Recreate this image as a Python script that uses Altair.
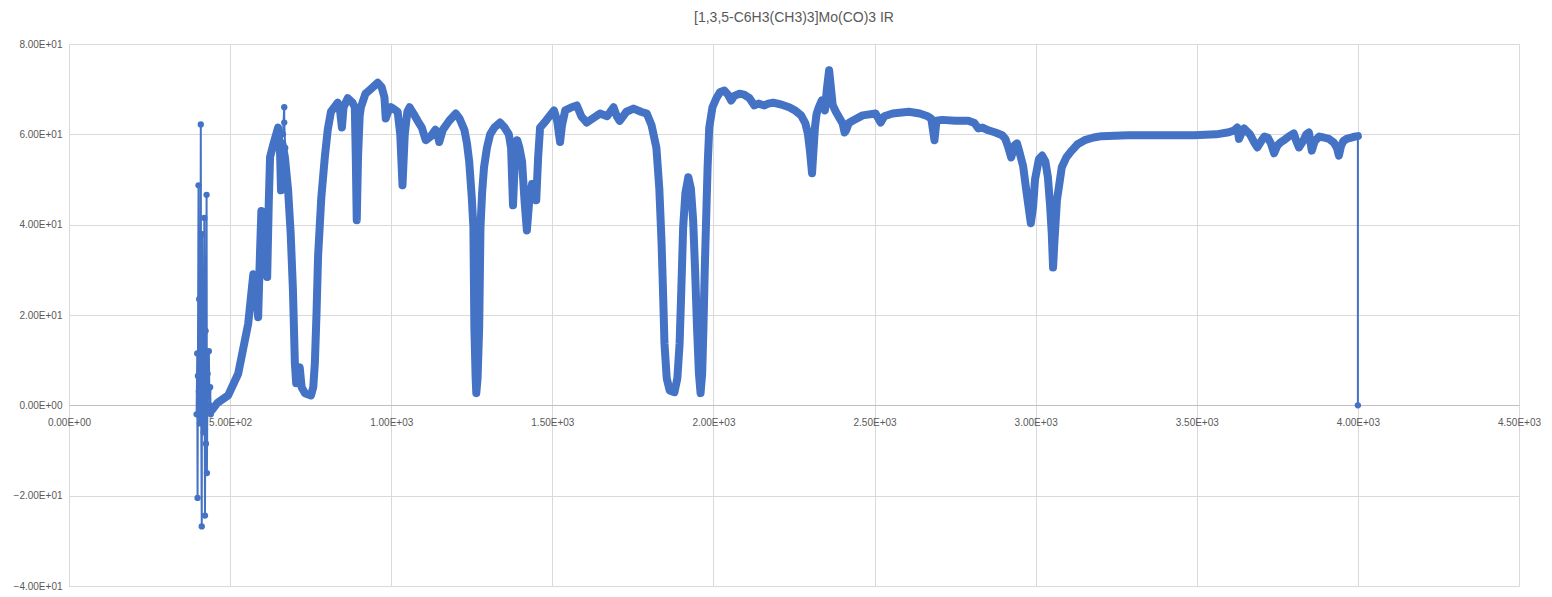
import altair as alt
import pandas as pd

# Main dense spectrum (wavenumber, value)
wn_dense = [443, 460, 494, 525, 556, 572, 580, 587, 592, 597, 605, 610, 615, 620, 624, 635, 649, 655, 658, 662,
            670, 680, 688, 695, 701, 705, 710, 716, 722, 732, 751, 758, 763, 768, 773, 783, 794, 803, 813, 834,
            840, 847, 852, 865, 880, 887, 890, 893, 897, 902, 906, 920, 936, 958, 970, 979, 983, 990, 999, 1010,
            1020, 1028, 1035, 1042, 1050, 1057, 1070, 1082, 1095, 1107, 1122, 1137, 1143, 1149, 1160, 1180, 1200, 1212, 1227, 1235,
            1242, 1250, 1255, 1258, 1262, 1264, 1268, 1273, 1277, 1282, 1288, 1297, 1307, 1320, 1338, 1352, 1365, 1372, 1378, 1384,
            1391, 1398, 1406, 1414, 1421, 1428, 1437, 1444, 1450, 1456, 1462, 1480, 1505, 1515, 1524, 1530, 1540, 1560, 1576, 1590,
            1607, 1625, 1648, 1670, 1690, 1700, 1709, 1730, 1752, 1775, 1793, 1808, 1823, 1832, 1839, 1844, 1848, 1855, 1864, 1879,
            1888, 1895, 1900, 1906, 1913, 1922, 1930, 1937, 1943, 1949, 1955, 1960, 1965, 1969, 1973, 1978, 1982, 1987, 1997, 2009,
            2020, 2034, 2045, 2055, 2065, 2081, 2095, 2112, 2127, 2140, 2158, 2170, 2185, 2210, 2235, 2255, 2272, 2285, 2293, 2300,
            2306, 2310, 2315, 2320, 2327, 2336, 2346, 2352, 2359, 2365, 2370, 2380, 2392, 2401, 2407, 2411, 2420, 2432, 2463, 2503,
            2519, 2530, 2556, 2606, 2640, 2665, 2676, 2686, 2692, 2710, 2751, 2791, 2810, 2822, 2835, 2853, 2875, 2896, 2906, 2915,
            2924, 2935, 2942, 2950, 2961, 2972, 2985, 2992, 2998, 3010, 3020, 3030, 3038, 3045, 3050, 3054, 3058, 3066, 3081, 3096,
            3112, 3130, 3152, 3180, 3205, 3286, 3400, 3492, 3560, 3595, 3615, 3626, 3631, 3640, 3647, 3665, 3680, 3688, 3700, 3710,
            3720, 3730, 3740, 3750, 3760, 3771, 3785, 3801, 3809, 3817, 3830, 3840, 3848, 3857, 3866, 3880, 3894, 3910, 3925, 3935,
            3941, 3948, 3955, 3965, 3985, 4000]
t_dense = [-1.1, 0.5, 2.2, 7, 18, 29, 26, 19.5, 32, 43, 38, 35, 28.4, 45, 55, 58, 61.5, 56, 47.6, 58,
           55, 47.6, 38, 25.5, 9.3, 4.9, 7, 8.4, 4, 2.7, 2.2, 4, 9.3, 20, 33, 46, 55, 61, 65, 67,
           66, 61.5, 66, 68, 67, 66, 55, 41, 55, 64, 66, 69, 70, 71.4, 70.5, 68.2, 63.5, 65, 66, 65.5,
           65, 60, 48.7, 60, 65, 66, 64.5, 63, 61.5, 58.7, 59.5, 61, 60.5, 58.3, 61, 63, 64.6, 63.5, 61, 58,
           54, 46, 39.5, 17.3, 6, 2.7, 6, 17.3, 39.4, 47, 52.7, 57, 60, 61.5, 62.6, 61.5, 60, 57, 44.3, 55,
           58.7, 57, 54, 45, 38.7, 45, 49, 48, 45.4, 55, 61.5, 63, 65.3, 63, 58.3, 62, 65.3, 66, 66.4, 64,
           62.6, 63.5, 64.6, 64, 66, 64, 63, 65, 65.7, 65, 64.6, 62, 57, 48, 36, 24, 13.7, 6, 3.3, 2.9,
           6, 13.7, 25, 39.4, 47, 50.5, 48, 41, 30, 17.3, 7, 2.7, 7, 17.3, 30, 43, 53, 61.5, 66, 68,
           69.3, 69.7, 68.8, 67.5, 68.5, 69, 68.8, 68, 66.4, 66.8, 66.4, 66.8, 67, 66.6, 66, 65.2, 64.2, 62.5, 60.2, 56,
           51.4, 56, 61.5, 64.5, 66, 67.5, 65.3, 70, 74.2, 70, 66.5, 65, 63.5, 62.4, 60.4, 60.8, 62.5, 63, 64.2, 64.6,
           62.6, 64, 64.6, 65, 64.6, 64, 63.5, 58.7, 63, 63.2, 63, 63, 62.5, 61.3, 61.5, 60.9, 60.4, 59.8, 59, 57.1,
           54.9, 57.6, 58, 56, 53, 47, 40.3, 44, 50, 54.5, 55.3, 54, 50.5, 44, 38, 30.5, 36, 45.4, 52.7, 55,
           56.4, 57.8, 58.7, 59.3, 59.6, 59.8, 59.8, 59.8, 60, 60.4, 60.8, 61.5, 59, 60.5, 61.3, 60, 58, 57.1, 58.5, 59.5,
           59.3, 58, 55.8, 57.5, 58.2, 58.7, 59.5, 60.2, 58.5, 57.1, 58.5, 60, 60.4, 56.4, 58.5, 59.5, 59.3, 59, 58.2, 57,
           55.3, 57.5, 58.5, 59, 59.4, 59.6]

# Sparse (noisy / isolated) points, drawn as thin line with markers
wn_sparse = [396, 398, 399, 400, 402, 403, 404, 406, 408, 409, 410, 412, 413, 414, 416, 418, 420, 421, 422, 424,
             425, 427, 428, 430, 432, 434, 436, 438, 440, 443,
             664, 668, 668, 671,
             4000, 4000]
t_sparse = [-2, 11.5, -20.5, 6.5, 48.7, 3, 23.5, -4, 14, 62.2, 2, -26.8, 37.9, 8, 20, -6, 41.5, 5, -24.4, 16.5,
            -8.5, 46.6, -15, 7, 3, 12, 0, 4, -2, -1.1,
            60, 66, 62.6, 57,
            59.6, 0]
seg_sparse = [0] * 30 + [1] * 4 + [2] * 2

BLUE = "#4472C4"
FONT = "Liberation Sans"

dense = pd.DataFrame({"x": wn_dense, "y": t_dense, "i": range(len(wn_dense))})
sparse = pd.DataFrame({"x": wn_sparse, "y": t_sparse, "seg": seg_sparse, "i": range(len(wn_sparse))})

fmt = "replace(replace(format(datum.value, '.2e'), 'e+', 'E+0'), 'e-', 'E-0')"

xscale = alt.Scale(domain=[0, 4500], nice=False, zero=False)
yscale = alt.Scale(domain=[-40, 80], nice=False)

xaxis = alt.Axis(values=list(range(0, 4501, 500)), labelExpr=fmt, title=None, domain=False, ticks=False,
                 tickSize=0, labelPadding=-169, grid=True, gridColor="#d9d9d9", labelFontSize=10,
                 labelColor="#595959", labelFont=FONT, labelFlush=False, labelOverlap=False)
yaxis = alt.Axis(values=list(range(-40, 81, 20)), labelExpr=fmt, title=None, domain=False, ticks=False,
                 labelPadding=7, grid=True,
                 gridColor=alt.condition("datum.value === 0", alt.value("#bfbfbf"), alt.value("#d9d9d9")),
                 labelFontSize=10, labelColor="#595959", labelFont=FONT, labelFlush=False,
                 labelOverlap=False)

dense_layer = alt.Chart(dense).mark_line(color=BLUE, strokeWidth=8, strokeCap="round", strokeJoin="round").encode(
    x=alt.X("x:Q", scale=xscale, axis=xaxis),
    y=alt.Y("y:Q", scale=yscale, axis=yaxis),
    order="i:Q",
)

sparse_layer = alt.Chart(sparse).mark_line(
    color=BLUE, strokeWidth=2,
    point=alt.OverlayMarkDef(color=BLUE, size=40, filled=True, opacity=1),
).encode(
    x=alt.X("x:Q", scale=xscale),
    y=alt.Y("y:Q", scale=yscale),
    detail="seg:N",
    order="i:Q",
)

chart = alt.layer(sparse_layer, dense_layer).properties(
    width=1450, height=542,
    title=alt.TitleParams("[1,3,5-C6H3(CH3)3]Mo(CO)3 IR", fontSize=14, font="Liberation Sans",
                          fontWeight="normal", color="#595959", anchor="middle", offset=14),
    autosize=alt.AutoSizeParams(type="none"),
    padding={"left": 61, "top": 36, "right": 25, "bottom": 5},
).configure_view(stroke=None).configure(background="white")

chart.save("out.html", embed_options={"renderer": "svg", "actions": False})
